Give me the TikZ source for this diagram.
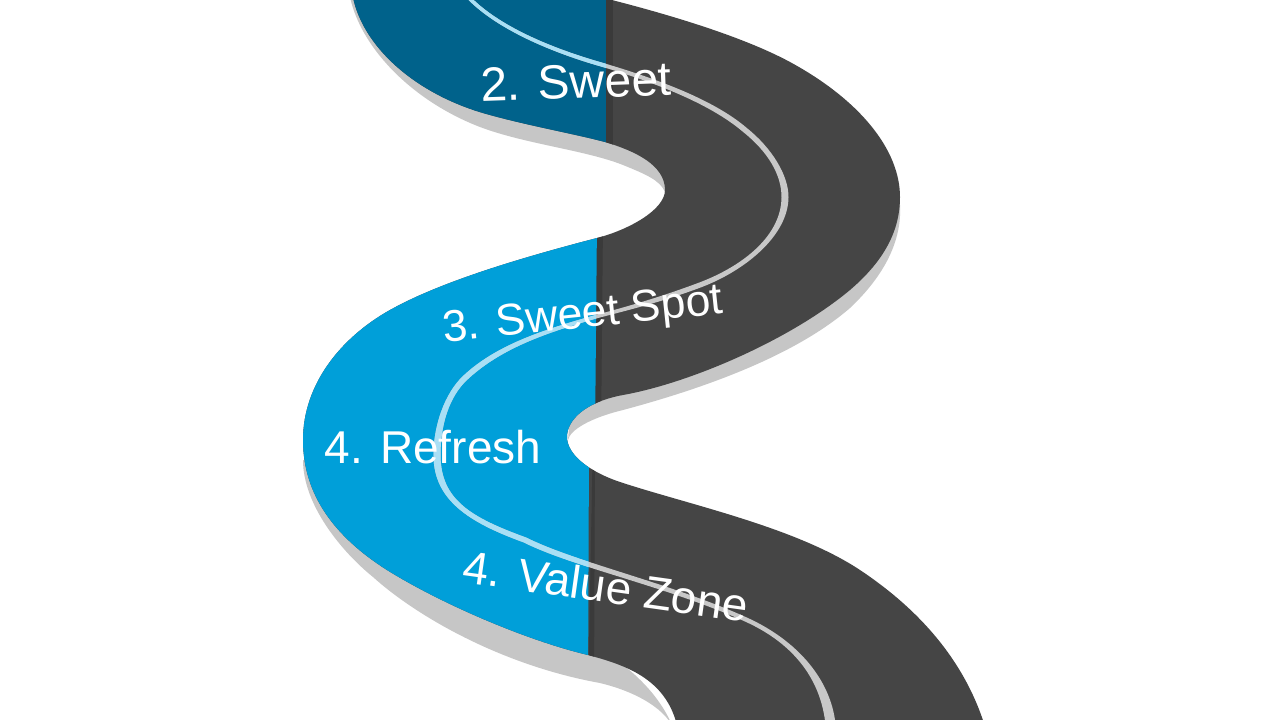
\documentclass[tikz,border=0pt]{standalone}
\usepackage{fontspec}
\setmainfont{Liberation Sans}
\definecolor{roaddark}{HTML}{454545}
\definecolor{roadedge}{HTML}{3A3A3A}
\definecolor{bluedeep}{HTML}{00628B}
\definecolor{bluebright}{HTML}{009FD9}
\definecolor{shadowgrey}{HTML}{C6C6C6}
\definecolor{lineblue}{HTML}{A9DFF5}
\definecolor{linegrey}{HTML}{C8C8C8}
\newcommand{\roadoutline}{
  (352,-8) .. controls (360,45) and (415,95) .. (490,115)
  .. controls (530,126) and (575,134) .. (605,142)
  .. controls (635,151) and (665,165) .. (665,190)
  .. controls (665,210) and (628,230) .. (597,238)
  .. controls (520,258) and (440,282) .. (390,310)
  .. controls (340,338) and (303,385) .. (303,440)
  .. controls (303,495) and (335,537) .. (387,570)
  .. controls (440,603) and (525,640) .. (588,655)
  .. controls (625,665) and (665,678) .. (677,725)
  -- (680,760) -- (995,760) -- (990,745)
  .. controls (975,680) and (935,620) .. (860,570)
  .. controls (795,527) and (690,505) .. (620,482)
  .. controls (590,472) and (567,455) .. (567,437)
  .. controls (567,420) and (585,402) .. (623,395)
  .. controls (690,383) and (790,340) .. (850,290)
  .. controls (885,260) and (900,230) .. (900,197)
  .. controls (900,150) and (860,100) .. (790,62)
  .. controls (740,35) and (660,12) .. (600,-3)
  -- cycle}
\newcommand{\roadmark}{
  (463.4,-11.1) .. controls (491.4,23.9) and (550.6,48.1) .. (603.6,63.1)
  .. controls (650.6,77.1) and (711.7,97.9) .. (746.7,127.9)
  .. controls (771.7,147.9) and (788.5,175) .. (788.5,197)
  .. controls (788.5,235) and (745.9,270.4) .. (700.9,287.4)
  .. controls (660.9,302.4) and (625.5,310.7) .. (595.5,318.7)
  .. controls (550.5,331.7) and (501.9,347) .. (466.9,380)
  .. controls (448.9,397) and (440.5,425) .. (440.5,455)
  .. controls (440.5,500) and (471.2,517.6) .. (526.2,537.6)
  .. controls (576.2,562.6) and (670.9,583) .. (747.9,618)
  .. controls (795.9,640) and (833,679.4) .. (836,729.4)
  -- (826,730.6) .. controls (823,680.6) and (794.1,644) .. (746.1,622)
  .. controls (669.1,587) and (573.8,567.4) .. (523.8,542.4)
  .. controls (468.8,522.4) and (433.5,500) .. (433.5,455)
  .. controls (433.5,425) and (445.1,393) .. (463.1,376)
  .. controls (498.1,343) and (549.5,328.3) .. (594.5,315.3)
  .. controls (624.5,307.3) and (659.1,297.6) .. (699.1,282.6)
  .. controls (744.1,265.6) and (781.5,235) .. (781.5,197)
  .. controls (781.5,175) and (768.3,152.1) .. (743.3,132.1)
  .. controls (708.3,102.1) and (649.4,80.9) .. (602.4,66.9)
  .. controls (549.4,51.9) and (488.6,26.1) .. (460.6,-8.9) -- cycle}
\newcommand{\bluetop}{(300,-40) rectangle (606,200)}
\newcommand{\bluemid}{(280,220) -- (597,220) -- (595,440) -- (589,440) -- (588,700) -- (280,700) -- cycle}
\tikzset{
  roadlabel/.style={text=white,inner sep=0pt},
  shade piece/.style={fill=shadowgrey}
}
\begin{document}
\begin{tikzpicture}[x=1pt,y=-1pt]
\useasboundingbox (0,0) rectangle (1280,720);
\clip (0,0) rectangle (1280,720);
\fill[white] (0,0) rectangle (1280,720);
% side faces
\path[shade piece] (349,-8) .. controls (358,45) and (410,100) .. (480,127)
  .. controls (525,144) and (585,150) .. (623,165)
  .. controls (645,174) and (660,180) .. (665,192)
  -- (668,170) -- (640,140) -- (600,120) -- (400,-8) -- cycle;
\path[shade piece] (900,205) .. controls (902,240) and (885,275) .. (850,308)
  .. controls (790,360) and (690,392) .. (623,410)
  .. controls (590,418) and (570,430) .. (568,440)
  -- (570,415) -- (600,390) -- (640,380) -- (850,200) -- cycle;
\path[shade piece] (303,460) .. controls (303,505) and (342,552) .. (373,577)
  .. controls (415,615) and (500,665) .. (600,683)
  .. controls (625,689) and (658,702) .. (672,725)
  .. controls (662,702) and (645,682) .. (622,664)
  -- (500,600) -- (350,480) -- cycle;
% road surface
\fill[roaddark] \roadoutline;
\begin{scope}
  \clip \roadoutline;
  \fill[roadedge] (606,-40) rectangle (613,200);
  \fill[roadedge] (597,220) -- (603,220) -- (601,440) -- (595,440) -- (594,700) -- (588,700) -- cycle;
  \fill[bluedeep] \bluetop;
  \fill[bluebright] \bluemid;
  \fill[linegrey] \roadmark;
  \begin{scope}
    \clip \bluetop;
    \fill[lineblue] \roadmark;
  \end{scope}
  \begin{scope}
    \clip \bluemid;
    \fill[lineblue] \roadmark;
  \end{scope}
\end{scope}
\node[roadlabel,font=\fontsize{48}{52}\selectfont,rotate=2] (sweet) at (576,82) {2. Sweet};
\node[roadlabel,font=\fontsize{44.5}{50}\selectfont,rotate=6] (spot) at (583,317) {3. Sweet Spot};
\node[roadlabel,font=\fontsize{46}{50}\selectfont] (refresh) at (433,447) {4. Refresh};
\node[roadlabel,font=\fontsize{46}{50}\selectfont,rotate=-8] (value) at (606,586) {4. Value Zone};
\end{tikzpicture}
\end{document}
